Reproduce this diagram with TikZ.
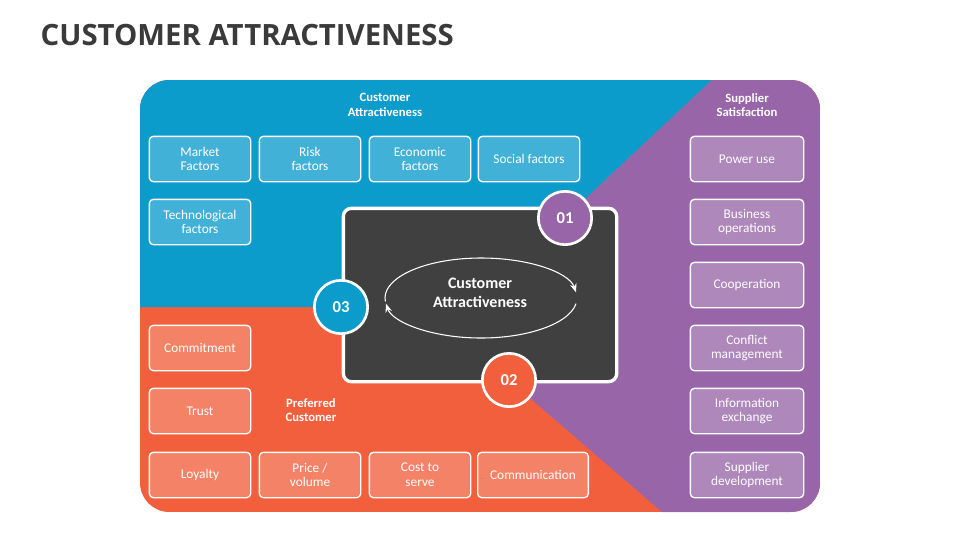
\documentclass[tikz,border=0pt]{standalone}
\usepackage{fontspec}
\setmainfont{Carlito}
\newfontfamily\titlefont{Open Sans}
\usetikzlibrary{arrows.meta}
\definecolor{cablue}{HTML}{0C9CCC}
\definecolor{caorange}{HTML}{F15F3C}
\definecolor{capurple}{HTML}{9866A8}
\definecolor{cadark}{HTML}{404040}
\definecolor{catitle}{HTML}{3A3A3A}
\begin{document}
\begin{tikzpicture}[x=0.75pt, y=-0.75pt, >=Stealth]

\tikzset{
  box/.style={draw=white, fill=white, fill opacity=0.22, text opacity=1, line width=1pt,
    rounded corners=3pt, minimum width=76pt, minimum height=34pt, align=center,
    text=white, font=\fontsize{10}{11}\selectfont, inner sep=1pt},
  wide/.style={box, minimum width=83pt},
  head/.style={text=white, font=\bfseries\fontsize{9.5}{11}\selectfont, align=center},
  num/.style={circle, draw=white, line width=2pt, minimum size=40pt, text=white,
    font=\bfseries\fontsize{12.5}{14}\selectfont},
  arr/.style={->, white, line width=0.8pt}
}

\useasboundingbox (0,0) rectangle (960,540);

% --- Title ---
\node[anchor=west, text=catitle, font=\titlefont\bfseries\fontsize{22}{26}\selectfont] (title) at (36,35) {CUSTOMER ATTRACTIVENESS};

% --- Background regions ---
\begin{scope}
\clip[rounded corners=22pt] (140,80) rectangle (820,512);
\fill[caorange] (140,80) rectangle (820,512);
\fill[cablue] (140,80) -- (712,80) -- (565,218) -- (480,307) -- (140,307) -- cycle;
\fill[capurple] (712,80) -- (820,80) -- (820,512) -- (662,512) -- (509,380) -- (565,218) -- cycle;
\end{scope}

% --- Centre ---
\node[draw=white, line width=2.5pt, fill=cadark, rounded corners=6pt,
  minimum width=205pt, minimum height=130pt] (core) at (480,295) {};
\node[text=white, font=\bfseries\fontsize{12}{14}\selectfont, align=center] (coretext) at (480,293) {Customer\\Attractiveness};
\coordinate (oc) at (481,298);
\draw[arr] ([shift={(175:96 and 40)}]oc) arc[start angle=175, end angle=352, x radius=96, y radius=40];
\draw[arr] ([shift={(8:96 and 40)}]oc) arc[start angle=8, end angle=172, x radius=96, y radius=40];

\node[num, fill=capurple] (n1) at (565,218) {01};
\node[num, fill=caorange] (n2) at (509,380) {02};
\node[num, fill=cablue] (n3) at (341,307) {03};

% --- Headings ---
\node[head] (hblue) at (385,105) {Customer\\Attractiveness};
\node[head] (hpurple) at (747,105) {Supplier\\Satisfaction};
\node[head] (horange) at (311,410) {Preferred\\Customer};

% --- Blue boxes ---
\node[box] (market) at (200,159) {Market\\Factors};
\node[box] (risk) at (310,159) {Risk\\factors};
\node[box] (econ) at (420,159) {Economic\\factors};
\node[box] (social) at (529,159) {Social factors};
\node[box] (tech) at (200,222) {Technological\\factors};

% --- Orange boxes ---
\node[box] (commit) at (200,348) {Commitment};
\node[box] (trust) at (200,411) {Trust};
\node[box] (loyal) at (200,475) {Loyalty};
\node[box] (price) at (310,475) {Price /\\volume};
\node[box] (cost) at (420,475) {Cost to\\serve};
\node[wide] (comm) at (533,475) {Communication};

% --- Purple boxes ---
\node[wide, minimum width=85pt] (power) at (747,159) {Power use};
\node[wide, minimum width=85pt] (busi) at (747,222) {Business\\operations};
\node[wide, minimum width=85pt] (coop) at (747,285) {Cooperation};
\node[wide, minimum width=85pt] (confl) at (747,348) {Conflict\\management};
\node[wide, minimum width=85pt] (info) at (747,411) {Information\\exchange};
\node[wide, minimum width=85pt] (supp) at (747,475) {Supplier\\development};

\end{tikzpicture}
\end{document}
